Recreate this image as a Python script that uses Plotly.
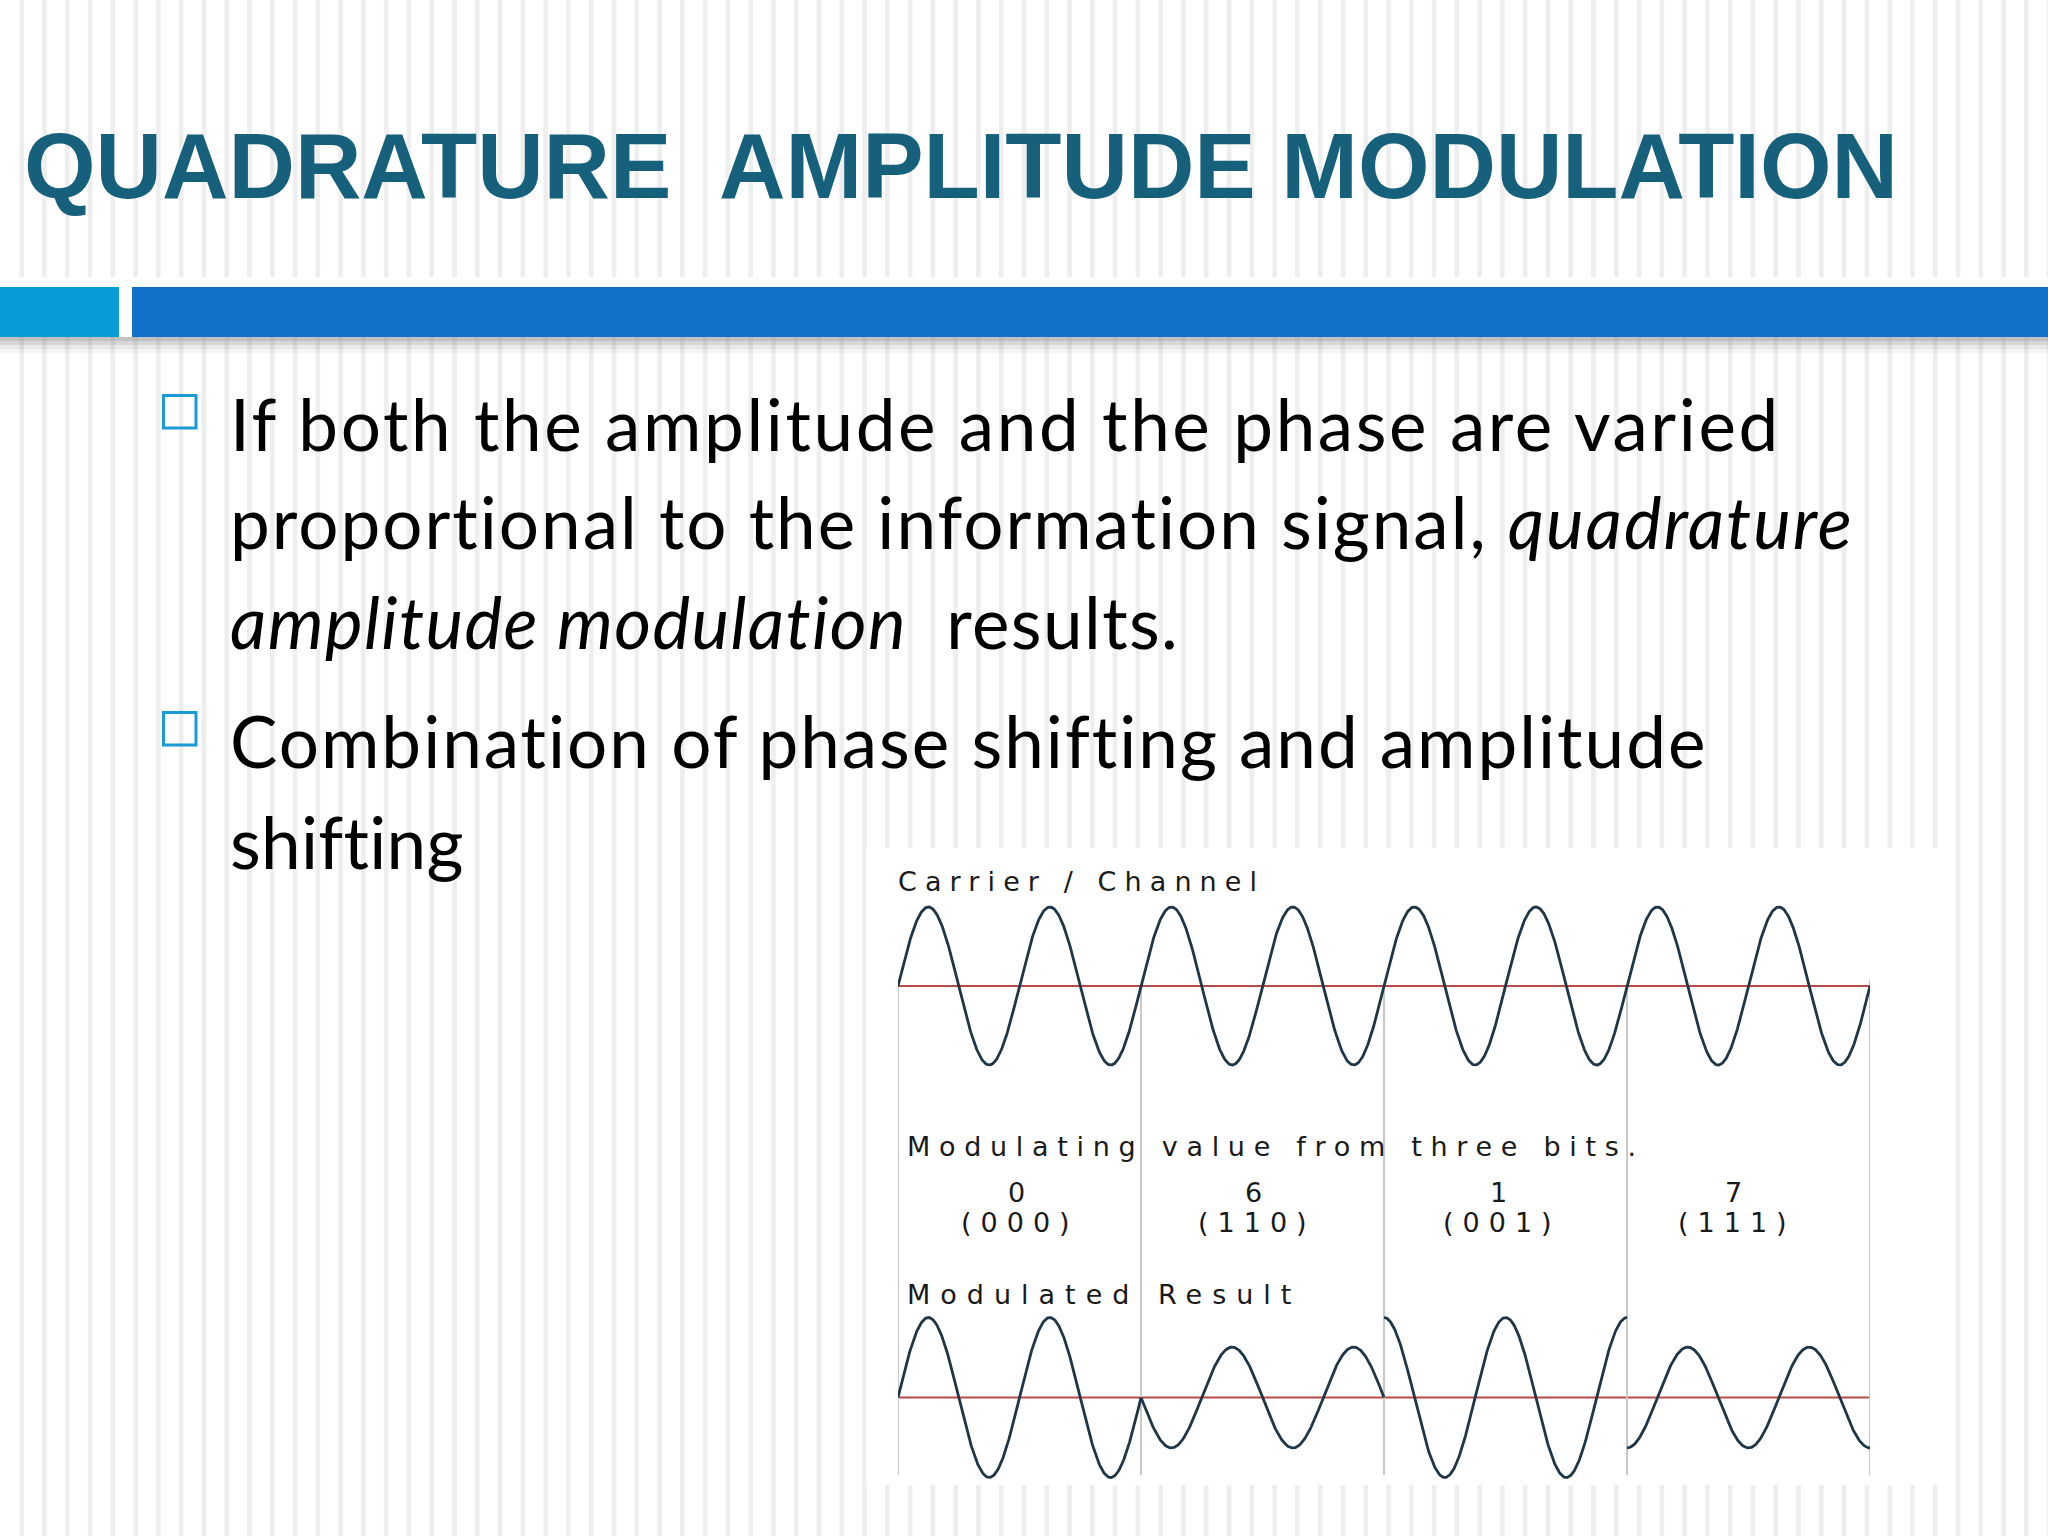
import numpy as np
import plotly.graph_objects as go

W, H = 2048, 1536

# ---------------- data ----------------
title_text = "QUADRATURE\u00a0 AMPLITUDE MODULATION"
bullet1_lines = [
    "If both the amplitude and the phase are varied",
    "proportional to the information signal, <i>quadrature</i>",
    "<i>amplitude modulation</i>\u00a0 results.",
]
bullet2_lines = [
    "Combination of phase shifting and amplitude",
    "shifting",
]
symbol_values = [0, 6, 1, 7]
symbol_bits = ["000", "110", "001", "111"]
amplitudes = [1.0, 0.63, 1.0, 0.63]
phases_deg = [0, 180, 90, 270]
cycles_per_symbol = 2
carrier_label = "Carrier / Channel"
modulating_label = "Modulating value from three bits."
result_label = "Modulated Result"

# ---------------- helpers (pixel -> paper) ----------------
def px(x):
    return x / W

def py(y):
    return 1 - y / H

shapes = []

# striped background
pitch = 22.78
x0s = 21.7
k = 0
while x0s + k * pitch < W + 5:
    c = x0s + k * pitch
    shapes.append(dict(type="rect", xref="paper", yref="paper", x0=px(c - 2.3), x1=px(c + 2.3),
                       y0=0, y1=1, fillcolor="#eeeeee", line=dict(width=0), layer="below"))
    k += 1

# white gap above bars
shapes.append(dict(type="rect", xref="paper", yref="paper", x0=0, x1=1, y0=py(287), y1=py(277),
                   fillcolor="white", line=dict(width=0), layer="below"))
# bar shadow
for a, b, op in [(337, 341, 0.45), (341, 345, 0.3), (345, 349, 0.16), (349, 353, 0.07)]:
    shapes.append(dict(type="rect", xref="paper", yref="paper", x0=0, x1=1, y0=py(b), y1=py(a),
                       fillcolor=f"rgba(120,120,120,{op})", line=dict(width=0), layer="below"))
# bars
shapes.append(dict(type="rect", xref="paper", yref="paper", x0=0, x1=px(119), y0=py(337), y1=py(287),
                   fillcolor="#079bd7", line=dict(width=0), layer="below"))
shapes.append(dict(type="rect", xref="paper", yref="paper", x0=px(132), x1=1, y0=py(337), y1=py(287),
                   fillcolor="#1170c7", line=dict(width=0), layer="below"))

# bullet squares
for top in (394, 711):
    shapes.append(dict(type="rect", xref="paper", yref="paper", x0=px(163.5), x1=px(196), y0=py(top + 34),
                       y1=py(top + 1.5), fillcolor="rgba(0,0,0,0)", line=dict(width=3, color="#1b9ad6"),
                       layer="below"))

# diagram white panel
shapes.append(dict(type="rect", xref="paper", yref="paper", x0=px(866), x1=px(1952), y0=py(1485), y1=py(848),
                   fillcolor="white", line=dict(width=0), layer="below"))

# axis geometry for the diagram
carrier_dom = [py(986 + 1.25 * 79), py(986 - 1.25 * 79)]
result_dom = [py(1397.5 + 1.25 * 80), py(1397.5 - 1.25 * 80)]
n_sym = len(symbol_values)

# symbol boundary lines (from carrier centre line down to bottom of result)
carrier_mid = (carrier_dom[0] + carrier_dom[1]) / 2
for b in range(n_sym + 1):
    shapes.append(dict(type="line", xref="x", yref="paper", x0=b, x1=b, y0=py(1475),
                       y1=carrier_mid + (0.004 if b == n_sym else 0), line=dict(color="#c9c9c9", width=2),
                       layer="below"))

# ---------------- traces ----------------
fig = go.Figure()
wave_color = "#1f3647"
red = "#b94a48"

t = np.linspace(0, n_sym, 1600)
carrier = np.sin(2 * np.pi * cycles_per_symbol * t)
fig.add_trace(go.Scatter(x=[0, n_sym], y=[0, 0], mode="lines", line=dict(color=red, width=2),
                         xaxis="x", yaxis="y", hoverinfo="skip", showlegend=False))
fig.add_trace(go.Scatter(x=t, y=carrier, mode="lines", line=dict(color=wave_color, width=2.8),
                         xaxis="x", yaxis="y", hoverinfo="skip", showlegend=False))

mx, my, rx, ry = [], [], [], []
for i, (amp, ph) in enumerate(zip(amplitudes, phases_deg)):
    ts = np.linspace(i, i + 1, 400)
    ys = amp * np.sin(2 * np.pi * cycles_per_symbol * (ts - i) + np.deg2rad(ph))
    mx += list(ts) + [None]
    my += list(ys) + [None]
    rx += [i + 0.004, i + 0.996, None]
    ry += [0, 0, None]
fig.add_trace(go.Scatter(x=rx, y=ry, mode="lines", line=dict(color=red, width=2),
                         xaxis="x", yaxis="y2", hoverinfo="skip", showlegend=False))
fig.add_trace(go.Scatter(x=mx, y=my, mode="lines", line=dict(color=wave_color, width=2.8),
                         xaxis="x", yaxis="y2", hoverinfo="skip", showlegend=False, connectgaps=False))

# ---------------- annotations ----------------
ann = []
ann.append(dict(text=f"<b>{title_text}</b>", x=px(22), y=py(166), xref="paper", yref="paper",
                xanchor="left", yanchor="middle", showarrow=False,
                font=dict(family="Liberation Sans", size=92, color="#16607b")))

body_size = 71
body_font = dict(family="Lato", size=body_size, color="#000000")
baselines = [451, 549, 649, 768, 869]
body_spacing = [2.6, 2.0, 1.4, 2.0, 0.3]

def body(s, ls):
    return f'<span style="letter-spacing:{ls}px">{s}</span>'

for txt, base, ls in zip(bullet1_lines + bullet2_lines, baselines, body_spacing):
    ann.append(dict(text=body(txt, ls), x=px(228), y=py(base - 0.387 * body_size), xref="paper", yref="paper",
                    xanchor="left", yanchor="middle", showarrow=False, font=body_font))

dfont = dict(family="DejaVu Sans", size=27, color="#1a1a1a")

def spaced(s, sp):
    return f'<span style="letter-spacing:{sp}px">{s}</span>'

ann.append(dict(text=spaced(carrier_label, 8.1), x=px(896), y=py(881), xref="paper", yref="paper",
                xanchor="left", yanchor="middle", showarrow=False, font=dfont))
ann.append(dict(text=spaced(modulating_label, 8.7), x=px(905), y=py(1146), xref="paper", yref="paper",
                xanchor="left", yanchor="middle", showarrow=False, font=dfont))
ann.append(dict(text=spaced(result_label, 10), x=px(905), y=py(1294), xref="paper", yref="paper",
                xanchor="left", yanchor="middle", showarrow=False, font=dfont))
label_shift = [0, -6, -4, -12]
for i, (v, bits) in enumerate(zip(symbol_values, symbol_bits)):
    ann.append(dict(text=spaced(str(v), 9), x=i + 0.5, y=py(1192.5), xref="x", yref="paper",
                    xshift=4.5 - 3 + label_shift[i],
                    xanchor="center", yanchor="middle", showarrow=False, font=dfont))
    ann.append(dict(text=spaced(f"({bits})", 9), x=i + 0.5, y=py(1222), xref="x", yref="paper",
                    xshift=4.5 - 4 + label_shift[i],
                    xanchor="center", yanchor="middle", showarrow=False, font=dfont))

fig.update_layout(
    width=W, height=H, autosize=False,
    margin=dict(l=0, r=0, t=0, b=0, pad=0),
    paper_bgcolor="white", plot_bgcolor="rgba(0,0,0,0)",
    showlegend=False,
    xaxis=dict(domain=[px(898), px(1870)], range=[0, n_sym], visible=False, fixedrange=True),
    yaxis=dict(domain=carrier_dom, range=[-1.25, 1.25], visible=False, fixedrange=True, anchor="x"),
    yaxis2=dict(domain=result_dom, range=[-1.25, 1.25], visible=False, fixedrange=True, anchor="x"),
    shapes=shapes,
    annotations=ann,
)

fig.write_html("out.html", config={"displayModeBar": False},
               post_script="document.body.style.margin='0px';document.body.style.overflow='hidden';")
